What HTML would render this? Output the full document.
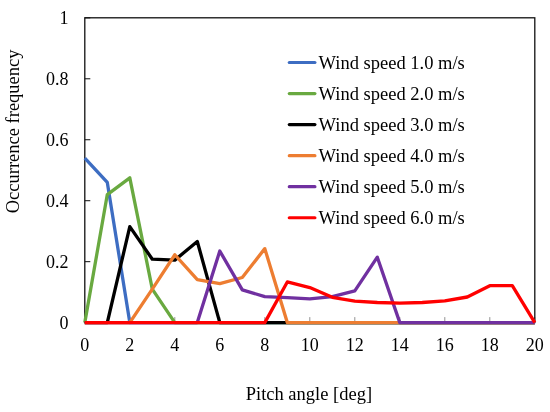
<!DOCTYPE html>
<html><head><meta charset="utf-8"><title>Chart</title>
<style>
html,body{margin:0;padding:0;background:#fff;}
svg{display:block;}
text{font-family:"Liberation Serif","Times New Roman",serif;font-size:18.5px;fill:#000;}
</style></head><body>
<svg width="550" height="412" viewBox="0 0 550 412">
<rect x="0" y="0" width="550" height="412" fill="#fff"/>

<line x1="84.80" y1="322.6" x2="84.80" y2="317.1" stroke="#777" stroke-width="0.8"/>
<text x="84.80" y="350.6" text-anchor="middle" style="font-size:18px">0</text>
<line x1="129.80" y1="322.6" x2="129.80" y2="317.1" stroke="#777" stroke-width="0.8"/>
<text x="129.80" y="350.6" text-anchor="middle" style="font-size:18px">2</text>
<line x1="174.80" y1="322.6" x2="174.80" y2="317.1" stroke="#777" stroke-width="0.8"/>
<text x="174.80" y="350.6" text-anchor="middle" style="font-size:18px">4</text>
<line x1="219.80" y1="322.6" x2="219.80" y2="317.1" stroke="#777" stroke-width="0.8"/>
<text x="219.80" y="350.6" text-anchor="middle" style="font-size:18px">6</text>
<line x1="264.80" y1="322.6" x2="264.80" y2="317.1" stroke="#777" stroke-width="0.8"/>
<text x="264.80" y="350.6" text-anchor="middle" style="font-size:18px">8</text>
<line x1="309.80" y1="322.6" x2="309.80" y2="317.1" stroke="#777" stroke-width="0.8"/>
<text x="309.80" y="350.6" text-anchor="middle" style="font-size:18px">10</text>
<line x1="354.80" y1="322.6" x2="354.80" y2="317.1" stroke="#777" stroke-width="0.8"/>
<text x="354.80" y="350.6" text-anchor="middle" style="font-size:18px">12</text>
<line x1="399.80" y1="322.6" x2="399.80" y2="317.1" stroke="#777" stroke-width="0.8"/>
<text x="399.80" y="350.6" text-anchor="middle" style="font-size:18px">14</text>
<line x1="444.80" y1="322.6" x2="444.80" y2="317.1" stroke="#777" stroke-width="0.8"/>
<text x="444.80" y="350.6" text-anchor="middle" style="font-size:18px">16</text>
<line x1="489.80" y1="322.6" x2="489.80" y2="317.1" stroke="#777" stroke-width="0.8"/>
<text x="489.80" y="350.6" text-anchor="middle" style="font-size:18px">18</text>
<line x1="534.80" y1="322.6" x2="534.80" y2="317.1" stroke="#777" stroke-width="0.8"/>
<text x="534.80" y="350.6" text-anchor="middle" style="font-size:18px">20</text>
<line x1="84.8" y1="322.60" x2="90.3" y2="322.60" stroke="#222" stroke-width="1.1"/>
<text x="68.5" y="328.70" text-anchor="end" style="font-size:18px">0</text>
<line x1="84.8" y1="261.64" x2="90.3" y2="261.64" stroke="#222" stroke-width="1.1"/>
<text x="68.5" y="267.74" text-anchor="end" style="font-size:18px">0.2</text>
<line x1="84.8" y1="200.68" x2="90.3" y2="200.68" stroke="#222" stroke-width="1.1"/>
<text x="68.5" y="206.78" text-anchor="end" style="font-size:18px">0.4</text>
<line x1="84.8" y1="139.72" x2="90.3" y2="139.72" stroke="#222" stroke-width="1.1"/>
<text x="68.5" y="145.82" text-anchor="end" style="font-size:18px">0.6</text>
<line x1="84.8" y1="78.76" x2="90.3" y2="78.76" stroke="#222" stroke-width="1.1"/>
<text x="68.5" y="84.86" text-anchor="end" style="font-size:18px">0.8</text>
<line x1="84.8" y1="17.80" x2="90.3" y2="17.80" stroke="#222" stroke-width="1.1"/>
<text x="68.5" y="23.90" text-anchor="end" style="font-size:18px">1</text>
<rect x="84.8" y="17.8" width="449.99999999999994" height="304.8" fill="none" stroke="#111" stroke-width="1.3"/>
<polyline points="84.80,158.01 107.30,182.39 129.80,322.60 152.30,322.60 174.80,322.60 197.30,322.60 219.80,322.60 242.30,322.60 264.80,322.60 287.30,322.60 309.80,322.60 332.30,322.60 354.80,322.60 377.30,322.60 399.80,322.60 422.30,322.60 444.80,322.60 467.30,322.60 489.80,322.60 512.30,322.60 534.80,322.60" fill="none" stroke="#3D6DC2" stroke-width="3.3" stroke-linejoin="round" stroke-linecap="butt"/>
<polyline points="84.80,322.60 107.30,194.58 129.80,177.82 152.30,289.07 174.80,322.60 197.30,322.60 219.80,322.60 242.30,322.60 264.80,322.60 287.30,322.60 309.80,322.60 332.30,322.60 354.80,322.60 377.30,322.60 399.80,322.60 422.30,322.60 444.80,322.60 467.30,322.60 489.80,322.60 512.30,322.60 534.80,322.60" fill="none" stroke="#69A940" stroke-width="3.3" stroke-linejoin="round" stroke-linecap="butt"/>
<polyline points="84.80,322.60 107.30,322.60 129.80,226.59 152.30,259.20 174.80,260.12 197.30,241.52 219.80,322.60 242.30,322.60 264.80,322.60 287.30,322.60 309.80,322.60 332.30,322.60 354.80,322.60 377.30,322.60 399.80,322.60 422.30,322.60 444.80,322.60 467.30,322.60 489.80,322.60 512.30,322.60 534.80,322.60" fill="none" stroke="#000000" stroke-width="3.3" stroke-linejoin="round" stroke-linecap="butt"/>
<polyline points="84.80,322.60 107.30,322.60 129.80,322.60 152.30,289.07 174.80,254.75 197.30,279.62 219.80,283.59 242.30,277.49 264.80,248.63 287.30,322.60 309.80,322.60 332.30,322.60 354.80,322.60 377.30,322.60 399.80,322.60 422.30,322.60 444.80,322.60 467.30,322.60 489.80,322.60 512.30,322.60 534.80,322.60" fill="none" stroke="#ED7D31" stroke-width="3.3" stroke-linejoin="round" stroke-linecap="butt"/>
<polyline points="84.80,322.60 107.30,322.60 129.80,322.60 152.30,322.60 174.80,322.60 197.30,322.60 219.80,251.03 242.30,289.80 264.80,296.69 287.30,297.61 309.80,298.83 332.30,296.69 354.80,290.90 377.30,257.19 399.80,322.60 422.30,322.60 444.80,322.60 467.30,322.60 489.80,322.60 512.30,322.60 534.80,322.60" fill="none" stroke="#7030A0" stroke-width="3.3" stroke-linejoin="round" stroke-linecap="butt"/>
<polyline points="84.80,322.60 107.30,322.60 129.80,322.60 152.30,322.60 174.80,322.60 197.30,322.60 219.80,322.60 242.30,322.60 264.80,322.60 287.30,281.97 309.80,287.55 332.30,297.36 354.80,301.11 377.30,302.48 399.80,303.09 422.30,302.48 444.80,300.96 467.30,297.00 489.80,285.72 512.30,285.72 534.80,322.60" fill="none" stroke="#FF0000" stroke-width="3.3" stroke-linejoin="round" stroke-linecap="butt"/>
<line x1="289.3" y1="62.50" x2="314.9" y2="62.50" stroke="#3D6DC2" stroke-width="3.2" stroke-linecap="round"/>
<text x="318.6" y="68.60">Wind speed 1.0 m/s</text>
<line x1="289.3" y1="93.55" x2="314.9" y2="93.55" stroke="#69A940" stroke-width="3.2" stroke-linecap="round"/>
<text x="318.6" y="99.65">Wind speed 2.0 m/s</text>
<line x1="289.3" y1="124.60" x2="314.9" y2="124.60" stroke="#000000" stroke-width="3.2" stroke-linecap="round"/>
<text x="318.6" y="130.70">Wind speed 3.0 m/s</text>
<line x1="289.3" y1="155.65" x2="314.9" y2="155.65" stroke="#ED7D31" stroke-width="3.2" stroke-linecap="round"/>
<text x="318.6" y="161.75">Wind speed 4.0 m/s</text>
<line x1="289.3" y1="186.70" x2="314.9" y2="186.70" stroke="#7030A0" stroke-width="3.2" stroke-linecap="round"/>
<text x="318.6" y="192.80">Wind speed 5.0 m/s</text>
<line x1="289.3" y1="217.75" x2="314.9" y2="217.75" stroke="#FF0000" stroke-width="3.2" stroke-linecap="round"/>
<text x="318.6" y="223.85">Wind speed 6.0 m/s</text>
<text x="308.9" y="400" text-anchor="middle">Pitch angle [deg]</text>
<text transform="translate(18.5,131.4) rotate(-90)" text-anchor="middle">Occurrence frequency</text>
</svg></body></html>
